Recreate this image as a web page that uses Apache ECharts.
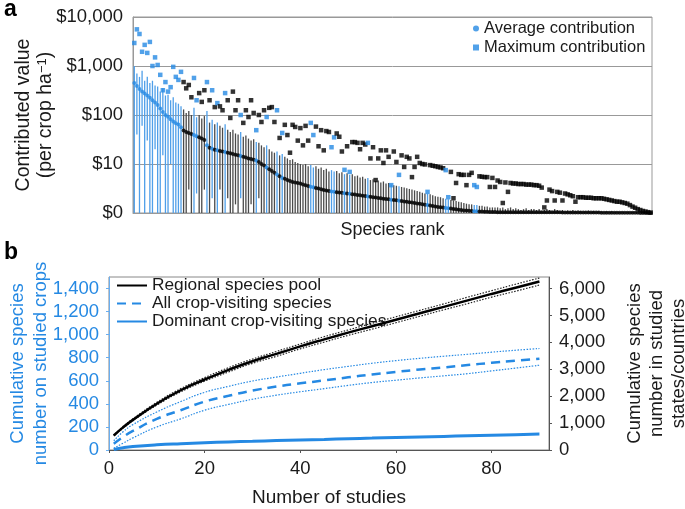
<!DOCTYPE html>
<html><head><meta charset="utf-8">
<script src="https://cdn.jsdelivr.net/npm/echarts@6/dist/echarts.min.js"></script>
<style>html,body{margin:0;padding:0;background:#fff}#c{width:685px;height:509px}</style>
</head><body><div id="c"></div>
<script>
const FONT = '"Liberation Sans", Arial, Helvetica, sans-serif';
const BLUE = '#2589e3';
const BLUE_BAR = '#4f9fe9';
const GRAY_BAR = '#4a4a4a';
const TXT = '#1a1a1a';

// ---------- Panel a data (species sorted by rank) ----------
const avgContribution = [
 450,390,340,300,275,250,225,200,180,160,
 135,115,100,92,82,74,68,64,56,48,
 45,43,41,39,37,35,33,31,24,21.5,
 20.5,19.5,19,18.5,18,17.5,17,16.5,16,15.5,
 15,14.5,14,13.5,13,12.6,12.2,11.8,11,10,
 9.3,8.5,7.8,7.2,6.6,6.1,5.6,5.2,5.0,4.7,
 4.5,4.3,4.2,4.1,4.0,3.8,3.7,3.55,3.45,3.35,
 3.25,3.15,3.05,2.95,2.88,2.8,2.75,2.7,2.66,2.62,
 2.58,2.54,2.5,2.46,2.42,2.38,2.34,2.3,2.26,2.22,
 2.18,2.14,2.1,2.06,2.02,1.99,1.96,1.93,1.9,1.87,
 1.84,1.81,1.78,1.75,1.72,1.69,1.66,1.63,1.6,1.57,
 1.54,1.51,1.48,1.45,1.42,1.39,1.36,1.33,1.31,1.29,
 1.27,1.25,1.23,1.21,1.19,1.17,1.15,1.13,1.12,1.11,
 1.1,1.09,1.08,1.07,1.07,1.06,1.06,1.05,1.05,1.05,
 1.04,1.04,1.04,1.04,1.04,1.04,1.04,1.04,1.04,1.04,
 1.04,1.04,1.03,1.03,1.03,1.03,1.03,1.03,1.03,1.03,
 1.03,1.03,1.03,1.03,1.03,1.02,1.02,1.02,1.02,1.02,
 1.02,1.02,1.02,1.02,1.02,1.02,1.02,1.02,1.02,1.02,
 1.01,1.01,1.01,1.01,1.01,1.01,1.01,1.01,1.01,1.01,
 1.01,1.01,1.01,1.01,1.01,1.0,1.0,1.0,1.0,1.0
];
const maxContribution = [
 2950,5600,4500,1950,2700,1850,3100,1000,1500,1050,
 660,320,470,300,370,960,600,520,760,470,
 350,410,230,570,200,280,185,320,470,200,
 320,145,175,150,125,280,200,87,300,125,
 200,100,69,125,91,200,110,49,100,72,
 125,91,140,145,72,125,34,43,63,39,
 17,63,57,30,54,24,60,30,69,39,
 58,23,49,19,47,45,22,35,42,36,
 18,7.6,23,6.9,28,28,27,20,27,25,
 27,13,22,4.7,13,19,10.5,19,14,3.7,
 18,11,6,15,8.7,14,13,5.4,8.7,14,
 10.5,10,9.8,2.7,9.5,9.2,9,8.7,8.5,8.2,
 7.5,2.1,6.9,2,4.1,6.2,6,6,3.7,6,
 6.6,3.7,3.4,5.6,5.5,5.4,5.4,3.4,5.2,3.4,
 4.6,4.3,1.6,4.2,2.7,4.1,4.0,4.0,3.9,3.9,
 3.9,3.8,3.8,3.8,3.7,3.7,3.6,3.3,1.3,1.8,
 3.0,2.8,1.8,2.7,2.6,1.8,2.5,2.4,2.3,2.2,
 1.7,2.1,2.1,2.1,2.05,2.05,2.05,2.0,2.0,2.0,
 2.0,1.95,1.9,1.85,1.8,1.75,1.7,1.7,1.65,1.6,
 1.55,1.45,1.35,1.28,1.2,1.15,1.1,1.07,1.04,1.02
];
const errorHigh = [
 1000,700,600,800,500,600,450,500,400,380,
 300,350,250,260,200,230,180,170,150,130,
 110,120,100,140,90,100,85,95,120,70,
 80,65,70,60,55,65,50,45,50,42,
 40,45,36,38,33,30,32,28,27,24,
 22,24,20,18,17,18,15,16,14,13,
 12,12.5,11,10.5,10,9.5,10,9,9.5,8.5,
 9,8,8.5,7.5,8,7,7.5,7,7.2,6.5,
 6.8,6.2,6.5,6,6.2,5.6,5.8,5.3,5.5,5,
 5.2,4.7,4.9,4.5,4.6,4.2,4.4,4,4.1,3.8,
 3.7,3.6,3.5,3.4,3.3,3.2,3.1,3.0,2.9,2.8,
 2.7,2.6,2.5,2.45,2.4,2.3,2.2,2.15,2.1,2.0,
 1.95,1.9,1.85,1.8,1.75,1.7,1.65,1.6,1.55,1.5,
 1.5,1.45,1.45,1.4,1.4,1.35,1.35,1.3,1.3,1.3,
 1.3,1.25,1.3,1.2,1.25,1.3,1.2,1.25,1.2,1.15,
 1.2,1.25,1.15,1.2,1.2,1.15,1.2,1.1,1.15,1.2,
 1.15,1.1,1.2,1.15,1.1,1.15,1.1,1.12,1.1,1.15,
 1.1,1.12,1.1,1.08,1.1,1.12,1.08,1.1,1.08,1.1,
 1.08,1.06,1.08,1.06,1.08,1.05,1.06,1.05,1.06,1.04,
 1.05,1.04,1.05,1.03,1.04,1.03,1.02,1.03,1.02,1.01
];
const errorLow = [
 1,40,1,60,1,30,1,1,20,1,
 1,15,1,1,10,1,1,1,1,1,
 1,3,1,1,2.5,1,1,3,1,1,
 2,1,1,3,1,1,2,1,1,1.5,
 1,2,1,1,1,1.5,1,1,2,1,
 1,1,1,1,1,1,1,1,1,1,
 1,1,1,1,1,1,1,1,1,1,
 1,1,1,1,1,1,1,1,1,1,
 1,1,1,1,1,1,1,1,1,1,
 1,1,1,1,1,1,1,1,1,1,
 1,1,1,1,1,1,1,1,1,1,
 1,1,1,1,1,1,1,1,1,1,
 1,1,1,1,1,1,1,1,1,1,
 1,1,1,1,1,1,1,1,1,1,
 1,1,1,1,1,1,1,1,1,1,
 1,1,1,1,1,1,1,1,1,1,
 1,1,1,1,1,1,1,1,1,1,
 1,1,1,1,1,1,1,1,1,1,
 1,1,1,1,1,1,1,1,1,1,
 1,1,1,1,1,1,1,1,1,1
];
// 0-based positions of dominant (blue) species
const dominantIdx = [0,1,2,3,4,5,6,7,8,9,10,11,12,13,14,15,16,17,18,
 23,24,28,30,32,35,41,47,51,55,57,68,69,76,77,81,83,90,99,102,113,120,121,131,132];
const valueTickLabels = ['$0','$10','$100','$1,000','$10,000'];
const speciesRank = avgContribution.map((_, i) => i + 1);

// ---------- Panel b data ----------
const studies = [1,3,5,10,15,20,25,30,35,40,45,50,55,60,65,70,75,80,85,90];
const regionalPool = [540,850,1120,1720,2220,2620,2980,3300,3570,3850,4110,4360,4600,4840,5080,5320,5560,5800,6030,6260];
const regionalUpper = [550,880,1160,1770,2280,2690,3060,3380,3660,3940,4210,4460,4710,4950,5190,5430,5680,5920,6160,6390];
const regionalLower = [530,820,1090,1670,2160,2560,2900,3220,3480,3760,4010,4260,4490,4730,4970,5210,5440,5680,5900,6130];
const allVisiting = [55,115,165,270,345,420,470,515,550,578,603,630,655,677,698,716,737,756,774,792];
const allUpper = [80,160,220,330,420,500,552,598,632,665,697,725,752,775,795,813,830,848,865,880];
const allLower = [15,60,105,200,270,345,395,440,475,505,532,560,585,605,625,643,662,686,710,735];
const dominantVisiting = [5,20,30,45,55,63,70,76,82,87,92,98,103,108,113,118,123,128,133,138];
const leftTicks = [0,200,400,600,800,1000,1200,1400];

const isDom = new Set(dominantIdx);
const pair = arr => studies.map((s, i) => [s, arr[i]]);

const chart = echarts.init(document.getElementById('c'), null, {renderer: 'canvas'});
const option = {
  backgroundColor: '#fff',
  animation: false,
  textStyle: {fontFamily: FONT, color: TXT},
  graphic: [
    {type: 'text', left: 4, top: -2, style: {text: 'a', font: 'bold 23px ' + FONT, fill: '#000'}},
    {type: 'text', left: 4, top: 241, style: {text: 'b', font: 'bold 23px ' + FONT, fill: '#000'}}
  ],
  legend: [
    {
      orient: 'vertical', left: 473, top: 20, padding: 0, itemGap: 2,
      itemWidth: 6, itemHeight: 6,
      textStyle: {fontSize: 16.5, color: TXT, fontFamily: FONT, lineHeight: 17},
      data: [
        {name: 'Average contribution', icon: 'circle', itemStyle: {color: BLUE}},
        {name: 'Maximum contribution', icon: 'rect', itemStyle: {color: BLUE}}
      ]
    },
    {
      orient: 'vertical', left: 116, top: 277, padding: 0, itemGap: 1,
      itemWidth: 30, itemHeight: 12,
      itemStyle: {opacity: 0},
      textStyle: {fontSize: 17.3, color: TXT, fontFamily: FONT, lineHeight: 17},
      data: ['Regional species pool', 'All crop-visiting species', 'Dominant crop-visiting species']
    }
  ],
  grid: [
    {left: 133, right: 33, top: 17, height: 196, show: true, borderColor: '#999', borderWidth: 1,
     containLabel: false, outerBoundsMode: 'none'},
    {left: 109, right: 136, top: 277, height: 173, show: true, borderColor: '#888', borderWidth: 1,
     containLabel: false, outerBoundsMode: 'none'}
  ],
  xAxis: [
    {
      gridIndex: 0, type: 'category', data: speciesRank, boundaryGap: true,
      axisLine: {lineStyle: {color: '#999'}}, axisTick: {show: false}, axisLabel: {show: false},
      name: 'Species rank', nameLocation: 'middle', nameGap: 8, nameMoveOverlap: false,
      nameTextStyle: {fontSize: 18, color: TXT, verticalAlign: 'top'}
    },
    {
      gridIndex: 1, type: 'value', min: 0, max: 92, interval: 20,
      axisLine: {lineStyle: {color: '#555'}},
      axisTick: {show: true, inside: false, length: 3, lineStyle: {color: '#555'}},
      axisLabel: {fontSize: 18.5, color: TXT, margin: 9, showMaxLabel: false},
      splitLine: {show: false},
      name: 'Number of studies', nameLocation: 'middle', nameGap: 38, nameMoveOverlap: false,
      nameTextStyle: {fontSize: 19, color: TXT, verticalAlign: 'top'}
    }
  ],
  yAxis: [
    {
      gridIndex: 0, type: 'log', logBase: 10, min: 1, max: 10000,
      axisLine: {show: true, lineStyle: {color: '#999'}}, axisTick: {show: false},
      axisLabel: {fontSize: 18.5, color: TXT, margin: 10,
        formatter: v => valueTickLabels[Math.round(Math.log10(v))]},
      splitLine: {show: true, lineStyle: {color: '#999', width: 1}},
      name: 'Contributed value\n(per crop ha{sup|−1})', nameLocation: 'middle', nameGap: 76, nameRotate: 90,
      nameMoveOverlap: false,
      nameTextStyle: {fontSize: 19.5, color: TXT, lineHeight: 22,
        rich: {sup: {fontSize: 13, color: TXT, padding: [0, 0, 8, 0]}}}
    },
    {
      gridIndex: 1, type: 'value', min: 0, max: 1500, interval: 200, position: 'left',
      axisLine: {show: true, lineStyle: {color: '#6aaef0'}},
      axisTick: {show: true, inside: false, length: 3, lineStyle: {color: '#6aaef0'}},
      axisLabel: {fontSize: 18.5, color: BLUE, margin: 10, showMaxLabel: false,
        formatter: v => leftTicks.indexOf(v) >= 0 ? v.toLocaleString('en-US') : ''},
      splitLine: {show: false},
      name: 'Cumulative species\nnumber on studied crops', nameLocation: 'middle', nameGap: 57, nameRotate: 90,
      nameMoveOverlap: false,
      nameTextStyle: {fontSize: 18.5, color: BLUE, lineHeight: 23}
    },
    {
      gridIndex: 1, type: 'value', min: 0, max: 1500 * 30 / 7, interval: 1000, position: 'right',
      axisLine: {show: true, lineStyle: {color: '#555'}},
      axisTick: {show: true, inside: false, length: 3, lineStyle: {color: '#555'}},
      axisLabel: {fontSize: 18.5, color: TXT, margin: 10, showMaxLabel: false,
        formatter: v => v.toLocaleString('en-US')},
      splitLine: {show: false},
      name: 'Cumulative species\nnumber in studied\nstates/countries', nameLocation: 'middle', nameGap: 75, nameRotate: 90,
      nameMoveOverlap: false,
      nameTextStyle: {fontSize: 18.5, color: TXT, lineHeight: 22}
    }
  ],
  series: [
    {
      name: 'errorbars', type: 'custom', xAxisIndex: 0, yAxisIndex: 0, silent: true,
      encode: {x: 0, y: [1, 2]},
      data: speciesRank.map((_, i) => [i, errorLow[i], errorHigh[i], isDom.has(i) ? 1 : 0]),
      renderItem: (params, api) => {
        const a = api.coord([api.value(0), api.value(1)]);
        const b = api.coord([api.value(0), api.value(2)]);
        return {type: 'line', shape: {x1: a[0], y1: a[1], x2: b[0], y2: b[1]},
          style: {stroke: api.value(3) ? BLUE_BAR : GRAY_BAR, lineWidth: 1.3}};
      },
      z: 1
    },
    {
      name: 'Average contribution', type: 'scatter', xAxisIndex: 0, yAxisIndex: 0,
      symbol: 'circle', symbolSize: 4, itemStyle: {color: BLUE},
      data: avgContribution.map((v, i) => isDom.has(i) ? {value: v} : {value: v, itemStyle: {color: '#000'}}),
      z: 2
    },
    {
      name: 'Maximum contribution', type: 'scatter', xAxisIndex: 0, yAxisIndex: 0,
      symbol: 'rect', symbolSize: 4.5, itemStyle: {color: BLUE},
      data: maxContribution.map((v, i) => isDom.has(i) ? {value: v} : {value: v, itemStyle: {color: '#000'}}),
      z: 3
    },
    {
      name: 'Regional species pool', type: 'line', xAxisIndex: 1, yAxisIndex: 2, smooth: true,
      showSymbol: false, symbol: 'none', data: pair(regionalPool),
      lineStyle: {color: '#000', width: 2.5}, itemStyle: {color: '#000'}, z: 4
    },
    {
      name: 'regionalUpper', type: 'line', xAxisIndex: 1, yAxisIndex: 2, smooth: true, symbol: 'none',
      data: pair(regionalUpper), lineStyle: {color: '#222', width: 1.2, type: [1.5, 1.5]}, z: 3
    },
    {
      name: 'regionalLower', type: 'line', xAxisIndex: 1, yAxisIndex: 2, smooth: true, symbol: 'none',
      data: pair(regionalLower), lineStyle: {color: '#222', width: 1.2, type: [1.5, 1.5]}, z: 3
    },
    {
      name: 'All crop-visiting species', type: 'line', xAxisIndex: 1, yAxisIndex: 1, smooth: true,
      showSymbol: false, symbol: 'none', data: pair(allVisiting),
      lineStyle: {color: BLUE, width: 2.5, type: [9, 6]}, itemStyle: {color: BLUE}, z: 4
    },
    {
      name: 'allUpper', type: 'line', xAxisIndex: 1, yAxisIndex: 1, smooth: true, symbol: 'none',
      data: pair(allUpper), lineStyle: {color: BLUE, width: 1.2, type: [1.5, 1.5]}, z: 3
    },
    {
      name: 'allLower', type: 'line', xAxisIndex: 1, yAxisIndex: 1, smooth: true, symbol: 'none',
      data: pair(allLower), lineStyle: {color: BLUE, width: 1.2, type: [1.5, 1.5]}, z: 3
    },
    {
      name: 'Dominant crop-visiting species', type: 'line', xAxisIndex: 1, yAxisIndex: 1, smooth: true,
      showSymbol: false, symbol: 'none', data: pair(dominantVisiting),
      lineStyle: {color: BLUE, width: 3}, itemStyle: {color: BLUE}, z: 4
    }
  ]
};
chart.setOption(option);
</script></body></html>
